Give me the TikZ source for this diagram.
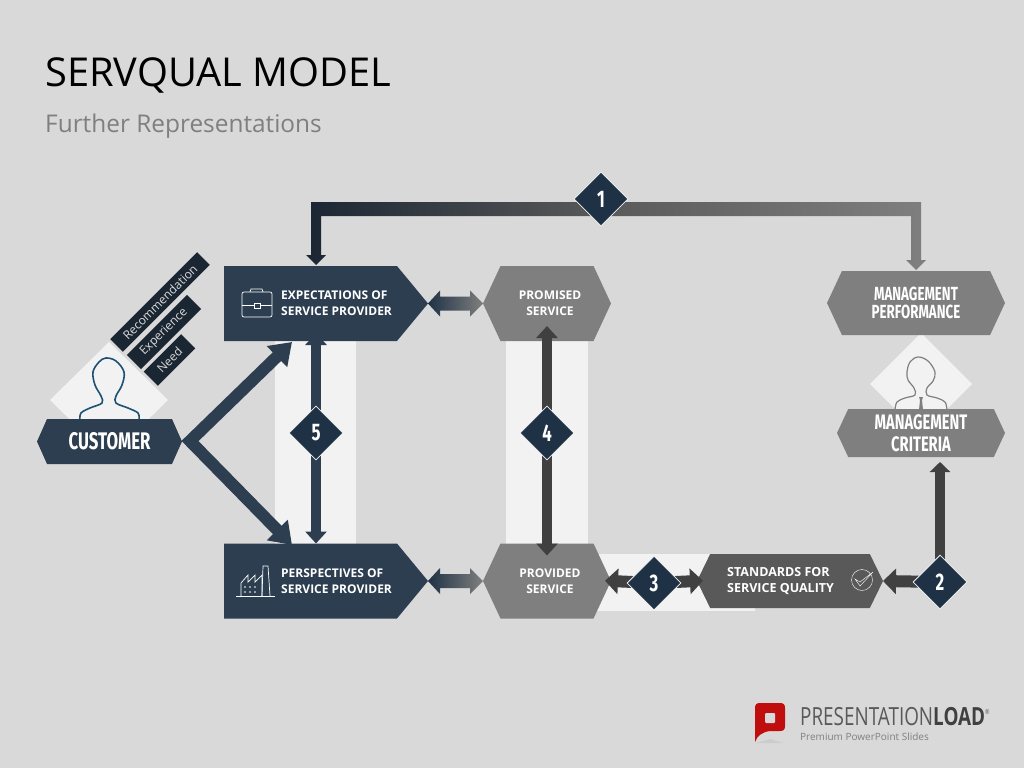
\documentclass[tikz,border=0pt]{standalone}
\usepackage{fontspec}
\usetikzlibrary{arrows.meta, calc, shapes.geometric, shapes.symbols, backgrounds}
\setmainfont{Open Sans}
\newfontfamily\condfont[FakeStretch=0.70]{Fira Sans}
\newfontfamily\brandfont[FakeStretch=0.755]{Open Sans}
\definecolor{slidegray}{HTML}{D9D9D9}
\definecolor{palegray}{HTML}{F2F2F2}
\definecolor{boxnavy}{HTML}{2C3E50}
\definecolor{gemnavy}{HTML}{1F3245}
\definecolor{tagnavy}{HTML}{1B2633}
\definecolor{hexgray}{HTML}{7F7F7F}
\definecolor{stdgray}{HTML}{595959}
\definecolor{arrowgray}{HTML}{404040}
\definecolor{logored}{HTML}{C00D0D}
\definecolor{figureblue}{HTML}{1D5275}
\pgfdeclarelayer{gemlayer}
\pgfsetlayers{background,main,gemlayer}
\tikzset{
    boxtext/.style={font=\bfseries\fontsize{12}{16}\selectfont, text=white, align=center, inner sep=0pt},
    condtext/.style={font=\condfont\bfseries\fontsize{#1}{#1}\selectfont, text=white, align=center, inner sep=0pt},
    plate/.style={shape=signal, fill=#1, inner sep=0pt, outer sep=0pt},
    gem/.style={shape=diamond, aspect=1, fill=gemnavy, draw=palegray, line width=0.8pt, minimum width=54pt, minimum height=54pt, inner sep=0pt, text=white, font=\condfont\bfseries\fontsize{24}{24}\selectfont},
    tagbox/.style={rotate=45, fill=tagnavy, text=slidegray, inner sep=0pt, font=\fontsize{12}{12}\selectfont},
    upright/.style={line width=10pt, draw=#1, -{Triangle[length=12pt,width=21pt]}},
    sidearrow/.style={line width=12pt, draw=arrowgray, -{Triangle[length=13pt,width=25pt]}},
    iconline/.style={draw=white, line width=0.7pt}
}
% double arrow with a shaded body, between two points on one level
\newcommand{\shadedouble}[2]{
    \shade[left color=gemnavy, right color=hexgray] let \p1=(#1), \p2=(#2) in
        (\p1) -- (\x1+12pt,\y1+13pt) -- (\x1+12pt,\y1+7pt) -- (\x2-13pt,\y1+7pt) -- (\x2-13pt,\y1+13pt) -- (\p2)
        -- (\x2-13pt,\y1-13pt) -- (\x2-13pt,\y1-7pt) -- (\x1+12pt,\y1-7pt) -- (\x1+12pt,\y1-13pt) -- cycle;
}
% elbow arrow leaving a gem sideways and going down to a tip
\newcommand{\elbowarrow}[4]{
    \shade[#3] let \p1=(#1), \p2=(#2) in
        (\x1,\y1-3pt) -- (\x2+#4pt,\y1-3pt) -- (\x2+#4pt,\y2+10pt) -- (\x2+2*#4pt,\y2+10pt) -- (\p2)
        -- (\x2-2*#4pt,\y2+10pt) -- (\x2-#4pt,\y2+10pt) -- (\x2-#4pt,\y1-17pt) -- (\x1,\y1-17pt) -- cycle;
}
\begin{document}
\begin{tikzpicture}[x=1pt, y=-1pt, >=Stealth]
    \useasboundingbox (0,0) rectangle (1024,768);

    % Title
    \node[anchor=base west, inner sep=0pt, text=black, font=\fontsize{39.8}{40}\selectfont] (title) at (45,86) {SERVQUAL MODEL};
    \node[anchor=base west, inner sep=0pt, text=hexgray, font=\fontsize{24.4}{25}\selectfont] (subtitle) at (45,132) {Further Representations};

    % Customer figure
    \fill[palegray] (50,400) -- (109,342) -- (168,400) -- (109,458) -- cycle;
    \draw[figureblue, line width=1.6pt] plot[smooth, tension=0.6] coordinates {(80,420) (81,413) (90,408) (102,403) (101,396) (95,385) (93,372) (99,362) (106,358) (116,361) (124,372) (122,385) (116,396) (116,403) (128,408) (138,413) (139,420)};
    \node[tagbox, minimum width=123pt, minimum height=18pt] (recommend) at (160,302) {Recommendation};
    \node[tagbox, minimum width=85pt, minimum height=20pt] (experience) at (164,332) {Experience};
    \node[tagbox, minimum width=53pt, minimum height=20pt] (need) at (169.5,360) {Need};

    % Manager figure
    \fill[palegray] (870,384) -- (921,333) -- (972,384) -- (921,435) -- cycle;
    \draw[hexgray, line width=1.2pt] plot[smooth, tension=0.6] coordinates {(895,410) (897,402) (905,398) (915,395) (914,388) (908,380) (907,372) (910,362) (918,357) (928,361) (935,372) (933,381) (927,388) (927,395) (937,398) (945,402) (947,410)};
    \fill[hexgray] (919,410) -- (920,400) -- (919,397) -- (923,397) -- (922,400) -- (923,410) -- cycle;

    % Plates
    \node[plate=boxnavy, anchor=west, signal to=east, signal pointer angle=100.8, minimum width=204pt, minimum height=75pt] (expect) at (224,303.5) {};
    \node[plate=boxnavy, anchor=west, signal to=east, signal pointer angle=100.8, minimum width=204pt, minimum height=75pt] (persp) at (224,581) {};
    \node[plate=hexgray, signal to=east and west, signal pointer angle=130, minimum width=128pt, minimum height=75pt] (promised) at (547,303.5) {};
    \node[plate=hexgray, signal to=east and west, signal pointer angle=130, minimum width=128pt, minimum height=75pt] (provided) at (547,581) {};
    \node[plate=stdgray, signal to=east and west, signal pointer angle=128, minimum width=186pt, minimum height=54pt] (standards) at (790,581) {};
    \node[plate=hexgray, signal to=east and west, signal pointer angle=130, minimum width=178pt, minimum height=64pt, condtext=19] (perform) at (916,303) {MANAGEMENT\\[-1pt]PERFORMANCE};
    \node[plate=hexgray, signal to=east and west, signal pointer angle=130, minimum width=168pt, minimum height=48pt, condtext=21] (criteria) at (921,433) {MANAGEMENT\\[1pt]CRITERIA};
    \node[plate=boxnavy, signal to=east and west, signal pointer angle=132, minimum width=145pt, minimum height=45pt, condtext=24] (customer) at (109.5,441.5) {\raisebox{-2pt}{CUSTOMER}};

    % Plate labels
    \node[boxtext, align=left, anchor=west] (expectlabel) at (281,303) {EXPECTATIONS OF\\SERVICE PROVIDER};
    \node[boxtext, align=left, anchor=west] (persplabel) at (281,581) {PERSPECTIVES OF\\SERVICE PROVIDER};
    \node[boxtext, align=left, anchor=west, font=\bfseries\fontsize{12.5}{16}\selectfont] (standardslabel) at (727,581) {STANDARDS FOR\\SERVICE QUALITY};
    \node[boxtext] (promisedlabel) at (550,303) {PROMISED\\SERVICE};
    \node[boxtext] (providedlabel) at (550,581) {PROVIDED\\SERVICE};

    % Gems
    \begin{pgfonlayer}{gemlayer}
        \node[gem] (gem1) at (601,199) {1};
        \node[gem] (gem2) at (940,582) {2};
        \node[gem] (gem3) at (654,583) {3};
        \node[gem] (gem4) at (547,433) {4};
        \node[gem] (gem5) at (316,433) {5};
    \end{pgfonlayer}

    % Free ends
    \coordinate (expecttip) at (316,265);
    \coordinate (performtip) at (916,270);
    \coordinate (vee) at (190,441);
    \coordinate (veeup) at (292,342);
    \coordinate (veedown) at (292,545);

    \begin{scope}[on background layer]
        \fill[slidegray] (0,0) rectangle (1024,768);
        \fill[palegray] (275,340) rectangle (356,545);
        \fill[palegray] (506,340) rectangle (588,545);
        \fill[palegray] (590,554) rectangle (755,611);

        % Long feedback line
        \elbowarrow{gem1}{expecttip}{left color=tagnavy, middle color=arrowgray, right color=stdgray}{-5}
        \elbowarrow{gem1}{performtip}{left color=stdgray, right color=hexgray}{5}

        % Customer arrows
        \draw[line width=12pt, boxnavy, miter limit=4, {Triangle[length=21pt,width=28pt]}-{Triangle[length=21pt,width=28pt]}] (veeup) -- (vee) -- (veedown);

        % Gap arrow
        \draw[upright=boxnavy, shorten >=-8pt] (gem5.center) -- (gem5 |- expect.south);
        \draw[upright=boxnavy] (gem5.center) -- (gem5 |- persp.north);
    \end{scope}

    % Arrows between plates
    \shadedouble{expect.east}{promised.west}
    \shadedouble{persp.east}{provided.west}
    \draw[upright=arrowgray, shorten >=-15pt] (gem4.center) -- (promised.south);
    \draw[upright=arrowgray, shorten >=-12pt] (gem4.center) -- (provided.north);
    \draw[sidearrow, shorten >=-6pt] (gem3.center) -- (provided.east);
    \draw[sidearrow, shorten >=-6pt] (gem3.center) -- (standards.west);
    \draw[sidearrow] (gem2.center) -- (standards.east);
    \draw[line width=10pt, arrowgray, -{Triangle[length=10pt,width=20pt]}, shorten >=5pt] (gem2.center) -- (gem2 |- criteria.south);

    % Briefcase icon
    \draw[iconline, rounded corners=2pt] (242,292) rectangle (272,317);
    \draw[iconline] (242,305) -- (254,305) (260,305) -- (272,305);
    \draw[iconline] (254,303.5) rectangle (260,308);
    \draw[iconline] (250,292) -- (251,289) -- (262,289) -- (263,292);

    % Factory icon
    \draw[iconline] (236,596) -- (275,596);
    \draw[iconline] (241,596) -- (241,583) -- (248,575) -- (248,582) -- (255,575) -- (255,582) -- (262,575) -- (262,596);
    \draw[iconline] (262,596) -- (263,566) -- (268,566) -- (270,596);
    \foreach \dotx in {245,250,255} {
        \fill[white] (\dotx,587) circle (0.8pt);
        \fill[white] (\dotx,592) circle (0.8pt);
    }

    % Check icon
    \draw[draw=white, line width=0.4pt] (862,580) circle (10.5pt);
    \draw[draw=white, line width=0.4pt] (855,579) -- (860,586) -- (873,572) -- (860,582) -- cycle;

    % Logo
    \fill[black!20] (756,743) -- (783,743) -- (770,739) -- cycle;
    \fill[logored] (755,742) -- (755,708) .. controls (755,704.5) and (756.5,703) .. (760,703) -- (780,703) .. controls (783.5,703) and (785,704.5) .. (785,708) -- (785,726) .. controls (785,729.5) and (783.5,731) .. (780,731) -- (770,731) .. controls (762,732) and (757,736) .. (755,742) -- cycle;
    \fill[slidegray, rounded corners=1pt] (765,713) rectangle (775,723);
    \node[anchor=base west, inner sep=0pt, text=stdgray, font=\brandfont\fontsize{25}{25}\selectfont] (brand) at (800,725) {PRESENTATION{\bfseries\color{arrowgray}LOAD}\raisebox{11pt}{\fontsize{7}{7}\selectfont ®}};
    \node[anchor=base west, inner sep=0pt, text=hexgray, font=\fontsize{10}{11}\selectfont] (slogan) at (800,740) {Premium PowerPoint Slides};
\end{tikzpicture}
\end{document}
